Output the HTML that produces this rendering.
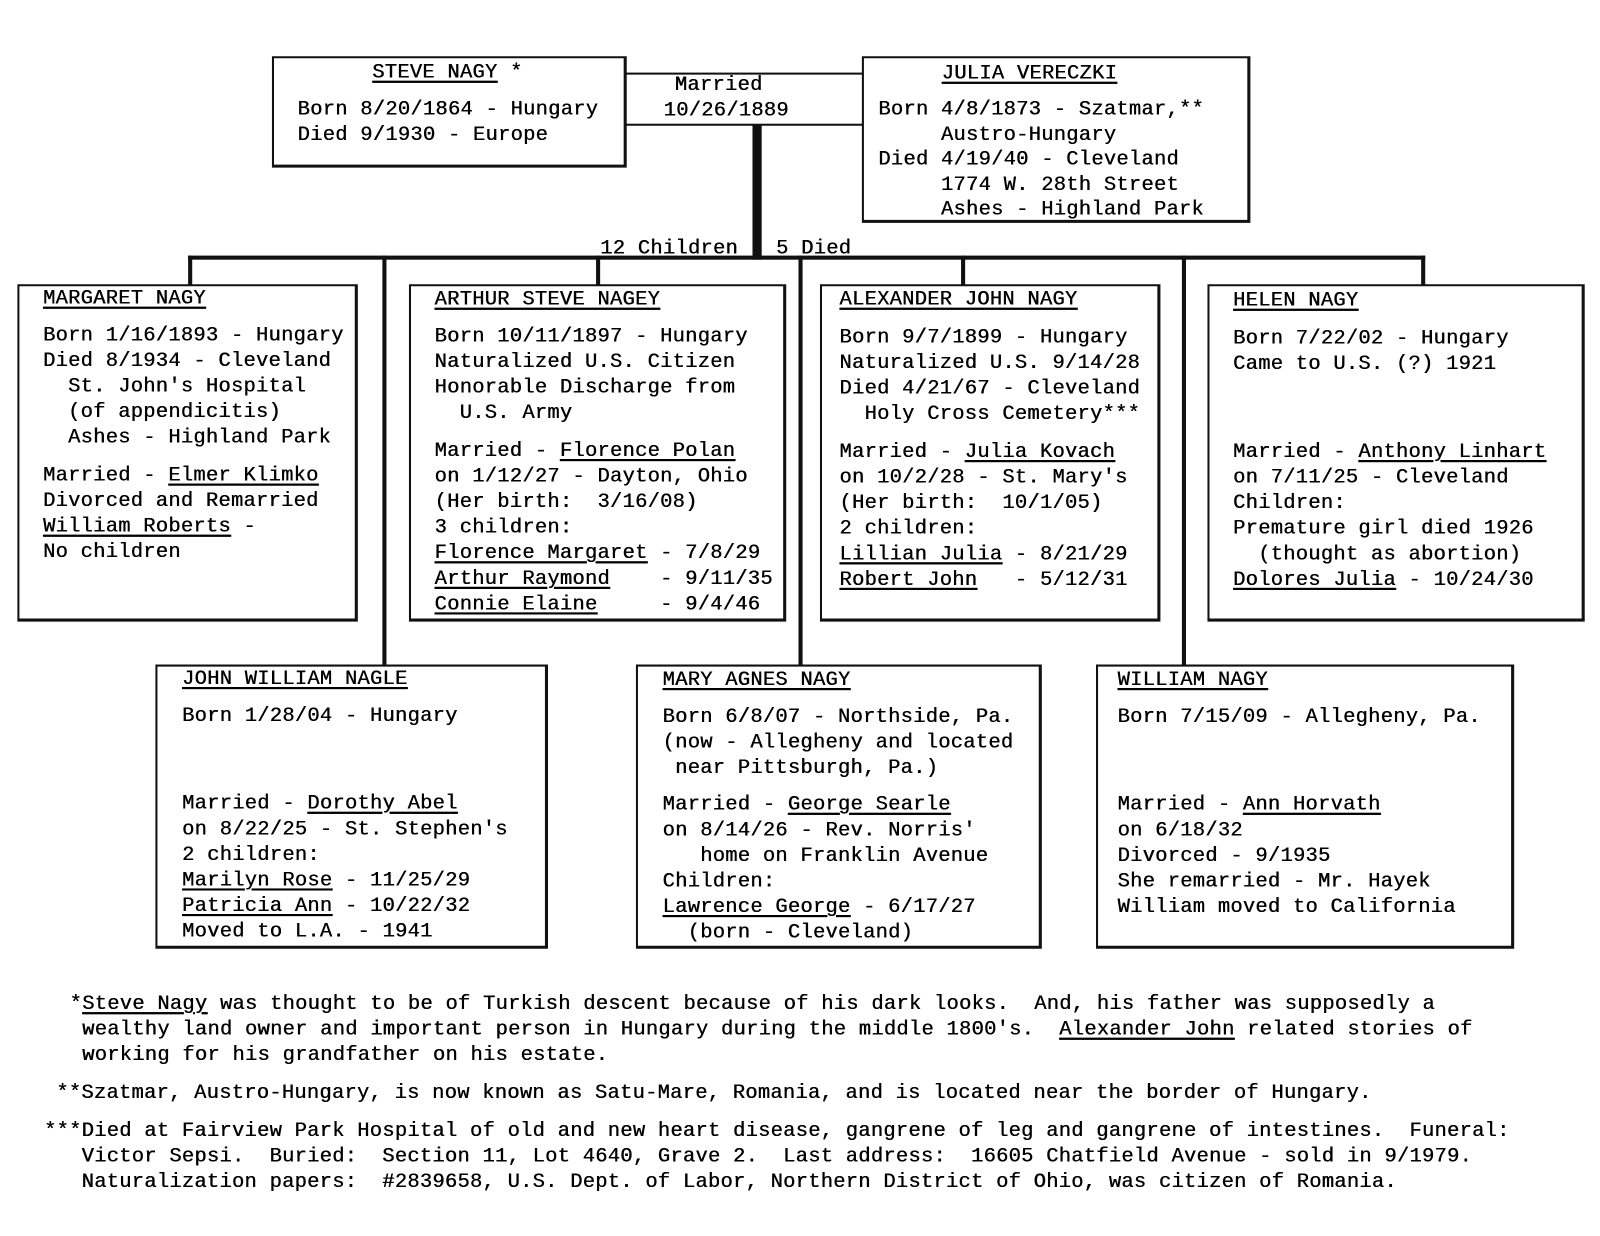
<!DOCTYPE html>
<html><head><meta charset="utf-8"><style>
body{margin:0;width:1600px;height:1236px;background:#fff;position:relative;overflow:hidden}
#w{position:absolute;left:0;top:0;width:1565px;height:1209px;transform:scale(1.0224);transform-origin:0 0;font-family:"Liberation Mono","DejaVu Sans Mono",monospace;font-size:20px;color:#000;letter-spacing:0.25px}
.b{position:absolute;border:2px solid #111;border-right-width:3px;border-bottom-width:3px;box-sizing:border-box}
.l{position:absolute;background:#111}
#tx{position:absolute;left:0;top:2px}
.t{position:absolute;white-space:pre;line-height:25px;text-shadow:0.4px 0 #000}
u{text-decoration-thickness:2px;text-underline-offset:3px}
</style></head><body><div id="w">
<div class="b" style="left:266px;top:55px;width:347px;height:109px"></div>
<div class="b" style="left:843px;top:55px;width:380px;height:163px"></div>
<div class="b" style="left:17px;top:278px;width:333px;height:330px"></div>
<div class="b" style="left:400px;top:278px;width:369px;height:330px"></div>
<div class="b" style="left:802px;top:278px;width:333px;height:330px"></div>
<div class="b" style="left:1181px;top:278px;width:369px;height:330px"></div>
<div class="b" style="left:152px;top:650px;width:384px;height:278px"></div>
<div class="b" style="left:622px;top:650px;width:397px;height:278px"></div>
<div class="b" style="left:1072px;top:650px;width:409px;height:278px"></div>
<div class="l" style="left:612px;top:71px;width:232px;height:2px"></div>
<div class="l" style="left:612px;top:121px;width:232px;height:2px"></div>
<div class="l" style="left:736px;top:122px;width:9px;height:132px"></div>
<div class="l" style="left:184px;top:250px;width:1210px;height:4px"></div>
<div class="l" style="left:184px;top:250px;width:4px;height:29px"></div>
<div class="l" style="left:583px;top:250px;width:4px;height:29px"></div>
<div class="l" style="left:940px;top:250px;width:4px;height:29px"></div>
<div class="l" style="left:1390px;top:250px;width:4px;height:29px"></div>
<div class="l" style="left:374px;top:250px;width:4px;height:401px"></div>
<div class="l" style="left:781px;top:250px;width:4px;height:401px"></div>
<div class="l" style="left:1156px;top:250px;width:4px;height:401px"></div>
<div id="tx">
<div class="t" style="left:364px;top:57px"><u>STEVE NAGY</u> *</div>
<div class="t" style="left:291px;top:93px">Born 8/20/1864 - Hungary
Died 9/1930 - Europe</div>
<div class="t" style="left:660px;top:69px">Married</div>
<div class="t" style="left:649px;top:94px">10/26/1889</div>
<div class="t" style="left:921px;top:58px"><u>JULIA VERECZKI</u></div>
<div class="t" style="left:859px;top:94px;line-height:24.6px">Born 4/8/1873 - Szatmar,**
     Austro-Hungary
Died 4/19/40 - Cleveland
     1774 W. 28th Street
     Ashes - Highland Park</div>
<div class="t" style="left:587px;top:229px">12 Children</div>
<div class="t" style="left:759px;top:229px">5 Died</div>
<div class="t" style="left:42px;top:278px"><u>MARGARET NAGY</u></div>
<div class="t" style="left:42px;top:314px">Born 1/16/1893 - Hungary
Died 8/1934 - Cleveland
  St. John's Hospital
  (of appendicitis)
  Ashes - Highland Park</div>
<div class="t" style="left:42px;top:451px">Married - <u>Elmer Klimko</u>
Divorced and Remarried
<u>William Roberts</u> -
No children</div>
<div class="t" style="left:425px;top:279px"><u>ARTHUR STEVE NAGEY</u></div>
<div class="t" style="left:425px;top:315px">Born 10/11/1897 - Hungary
Naturalized U.S. Citizen
Honorable Discharge from
  U.S. Army</div>
<div class="t" style="left:425px;top:427px">Married - <u>Florence Polan</u>
on 1/12/27 - Dayton, Ohio
(Her birth:  3/16/08)
3 children:
<u>Florence Margaret</u> - 7/8/29
<u>Arthur Raymond</u>    - 9/11/35
<u>Connie Elaine</u>     - 9/4/46</div>
<div class="t" style="left:821px;top:279px"><u>ALEXANDER JOHN NAGY</u></div>
<div class="t" style="left:821px;top:316px">Born 9/7/1899 - Hungary
Naturalized U.S. 9/14/28
Died 4/21/67 - Cleveland
  Holy Cross Cemetery***</div>
<div class="t" style="left:821px;top:428px">Married - <u>Julia Kovach</u>
on 10/2/28 - St. Mary's
(Her birth:  10/1/05)
2 children:
<u>Lillian Julia</u> - 8/21/29
<u>Robert John</u>   - 5/12/31</div>
<div class="t" style="left:1206px;top:280px"><u>HELEN NAGY</u></div>
<div class="t" style="left:1206px;top:317px">Born 7/22/02 - Hungary
Came to U.S. (?) 1921</div>
<div class="t" style="left:1206px;top:428px">Married - <u>Anthony Linhart</u>
on 7/11/25 - Cleveland
Children:
Premature girl died 1926
  (thought as abortion)
<u>Dolores Julia</u> - 10/24/30</div>
<div class="t" style="left:178px;top:650px"><u>JOHN WILLIAM NAGLE</u></div>
<div class="t" style="left:178px;top:686px">Born 1/28/04 - Hungary</div>
<div class="t" style="left:178px;top:772px">Married - <u>Dorothy Abel</u>
on 8/22/25 - St. Stephen's
2 children:
<u>Marilyn Rose</u> - 11/25/29
<u>Patricia Ann</u> - 10/22/32
Moved to L.A. - 1941</div>
<div class="t" style="left:648px;top:651px"><u>MARY AGNES NAGY</u></div>
<div class="t" style="left:648px;top:687px">Born 6/8/07 - Northside, Pa.
(now - Allegheny and located
 near Pittsburgh, Pa.)</div>
<div class="t" style="left:648px;top:773px">Married - <u>George Searle</u>
on 8/14/26 - Rev. Norris'
   home on Franklin Avenue
Children:
<u>Lawrence George</u> - 6/17/27
  (born - Cleveland)</div>
<div class="t" style="left:1093px;top:651px"><u>WILLIAM NAGY</u></div>
<div class="t" style="left:1093px;top:687px">Born 7/15/09 - Allegheny, Pa.</div>
<div class="t" style="left:1093px;top:773px">Married - <u>Ann Horvath</u>
on 6/18/32
Divorced - 9/1935
She remarried - Mr. Hayek
William moved to California</div>
<div class="t" style="left:68px;top:968px">*<u>Steve Nagy</u> was thought to be of Turkish descent because of his dark looks.  And, his father was supposedly a
 wealthy land owner and important person in Hungary during the middle 1800's.  <u>Alexander John</u> related stories of
 working for his grandfather on his estate.</div>
<div class="t" style="left:55px;top:1055px">**Szatmar, Austro-Hungary, is now known as Satu-Mare, Romania, and is located near the border of Hungary.</div>
<div class="t" style="left:43px;top:1092px">***Died at Fairview Park Hospital of old and new heart disease, gangrene of leg and gangrene of intestines.  Funeral:
   Victor Sepsi.  Buried:  Section 11, Lot 4640, Grave 2.  Last address:  16605 Chatfield Avenue - sold in 9/1979.
   Naturalization papers:  #2839658, U.S. Dept. of Labor, Northern District of Ohio, was citizen of Romania.</div>
</div>
</div></body></html>
